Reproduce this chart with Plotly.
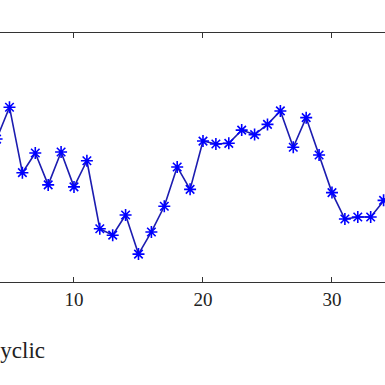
import plotly.graph_objects as go

cycles = list(range(4, 36))
values = [5.74, 7.02, 4.39, 5.18, 3.90, 5.22, 3.82, 4.87, 2.14, 1.88,
          2.69, 1.12, 2.01, 3.04, 4.62, 3.72, 5.66, 5.54, 5.57, 6.10,
          5.92, 6.33, 6.87, 5.41, 6.60, 5.10, 3.59, 2.53, 2.61, 2.61,
          3.28, 3.90]
tick_vals = [10, 20, 30]
tick_text = ["10", "20", "30"]
x_title = "Cyclic"

SERIF = "'Times New Roman', 'Liberation Serif', serif"

fig = go.Figure()
fig.add_trace(go.Scatter(
    x=cycles, y=values, mode="lines+markers",
    line=dict(color="#1c1cb0", width=1.6),
    marker=dict(symbol="asterisk-open", size=10,
                line=dict(color="#0000ff", width=1.6), color="#0000ff"),
    showlegend=False,
))

fig.update_layout(
    width=385, height=385,
    margin=dict(l=0, r=0, t=33, b=103),
    paper_bgcolor="white", plot_bgcolor="white",
    font=dict(family=SERIF, size=18, color="#222"),
    xaxis=dict(range=[4.264, 34.11], tickvals=tick_vals, ticktext=tick_text,
               ticks="inside", ticklen=5, tickwidth=1.3, tickcolor="#333",
               showline=True, linecolor="#333", linewidth=1.3, mirror="ticks",
               showgrid=False, zeroline=False,
               tickfont=dict(family=SERIF, size=19, color="#222")),
    yaxis=dict(range=[0, 10], showticklabels=False, ticks="", showline=False,
               showgrid=False, zeroline=False),
)
fig.add_annotation(text=x_title, xref="paper", yref="paper",
                   x=47/385, y=-(350-282)/249, xanchor="right", yanchor="middle",
                   showarrow=False,
                   font=dict(family=SERIF, size=23, color="#222"))

fig.write_html("out.html")
